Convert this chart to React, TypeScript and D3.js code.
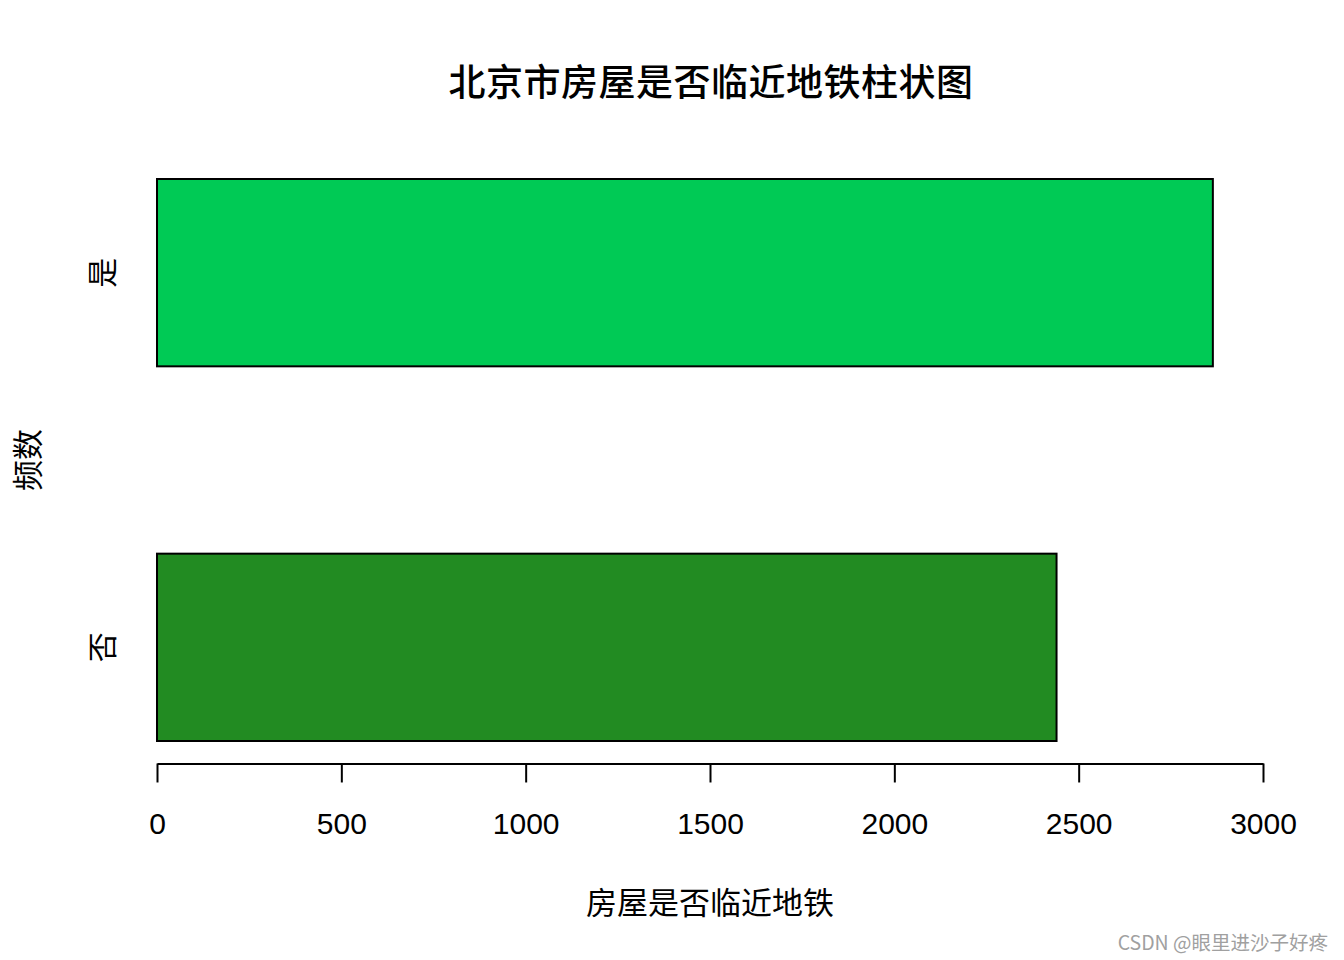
import React, { useEffect, useRef } from 'react';
import * as d3 from 'd3';

const categories = ['否', '是'];
const counts = [2440, 2864];
const barColors = ['#228B22', '#00CA55'];
const xTicks = [0, 500, 1000, 1500, 2000, 2500, 3000];

const App = () => {
  const svgRef = useRef<SVGSVGElement>(null);

  useEffect(() => {
    document.body.style.margin = '0';
    const width = 1344;
    const height = 960;
    const cjk = '"Noto Sans CJK SC", sans-serif';

    const svg = d3.select(svgRef.current).attr('width', width).attr('height', height);
    svg.selectAll('*').remove();
    svg.append('rect').attr('width', width).attr('height', height).attr('fill', 'white');

    // R barplot style: bars of width 1 with space 1, plot range extended by 4%
    const x = d3.scaleLinear().domain([0, 3000]).range([157, 1263]);
    const y = d3.scaleLinear().domain([1, 4]).range([741, 179]);
    const axisY = y(0.88);

    const bars = categories.map((c, i) => ({ c, v: counts[i], lo: 1 + i * 2, hi: 2 + i * 2 }));

    svg
      .selectAll('rect.bar')
      .data(bars)
      .enter()
      .append('rect')
      .attr('class', 'bar')
      .attr('x', x(0))
      .attr('y', (d) => y(d.hi))
      .attr('width', (d) => x(d.v) - x(0))
      .attr('height', (d) => y(d.lo) - y(d.hi))
      .attr('fill', (d, i) => barColors[i])
      .attr('stroke', 'black')
      .attr('stroke-width', 2);

    // category labels
    svg
      .selectAll('text.cat')
      .data(bars)
      .enter()
      .append('text')
      .attr('class', 'cat')
      .attr('transform', (d) => `translate(100, ${y((d.lo + d.hi) / 2)}) rotate(-90)`)
      .attr('text-anchor', 'middle')
      .attr('dominant-baseline', 'central')
      .attr('font-family', cjk)
      .attr('font-size', 30)
      .text((d) => d.c);

    // x-axis
    const xAxisCall = d3
      .axisBottom(x)
      .tickValues(xTicks)
      .tickFormat(d3.format('d'))
      .tickSize(19)
      .tickSizeOuter(0)
      .tickPadding(30);
    const gx = svg.append('g').attr('transform', `translate(0, ${axisY})`).call(xAxisCall);
    gx.select('.domain').attr('stroke-width', 2);
    gx.selectAll('.tick line').attr('stroke-width', 2);
    gx.selectAll('.tick text')
      .attr('font-family', 'Liberation Sans, Arial, sans-serif')
      .attr('font-size', 30)
      .attr('fill', 'black');

    // title
    svg
      .append('text')
      .attr('x', 711)
      .attr('y', 80)
      .attr('text-anchor', 'middle')
      .attr('dominant-baseline', 'central')
      .attr('font-family', cjk)
      .attr('font-weight', 500)
      .attr('font-size', 37)
      .attr('letter-spacing', 0.5)
      .text('北京市房屋是否临近地铁柱状图');

    // x label
    svg
      .append('text')
      .attr('x', 710)
      .attr('y', 900)
      .attr('text-anchor', 'middle')
      .attr('dominant-baseline', 'central')
      .attr('font-family', cjk)
      .attr('font-size', 31)
      .text('房屋是否临近地铁');

    // y label
    svg
      .append('text')
      .attr('transform', 'translate(25, 460) rotate(-90)')
      .attr('text-anchor', 'middle')
      .attr('dominant-baseline', 'central')
      .attr('font-family', cjk)
      .attr('font-size', 31)
      .text('频数');

    // watermark
    svg
      .append('text')
      .attr('x', 1328)
      .attr('y', 941)
      .attr('text-anchor', 'end')
      .attr('dominant-baseline', 'central')
      .attr('font-family', cjk)
      .attr('font-size', 19.5)
      .attr('fill', '#a0a0a0')
      .text('CSDN @眼里进沙子好疼');
  }, []);

  return (
    <div>
      <svg ref={svgRef}></svg>
    </div>
  );
};

export default App;
